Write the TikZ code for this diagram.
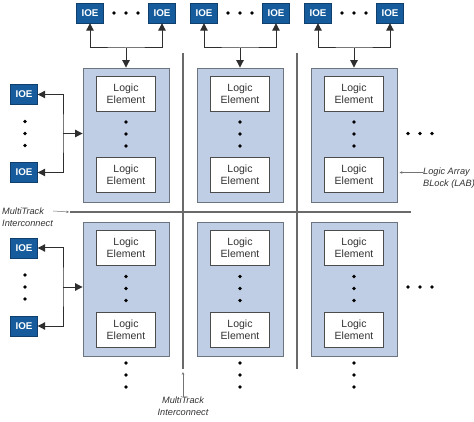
\documentclass[tikz,border=0pt]{standalone}
\usepackage{fontspec}
\setmainfont{Liberation Sans}
\usepackage{tikz}
\usetikzlibrary{arrows.meta, positioning}
\definecolor{IOEBlue}{HTML}{165C9C}
\definecolor{LabFill}{HTML}{BFCEE4}
\definecolor{LabLine}{HTML}{6C7480}
\definecolor{Wire}{HTML}{2E2E2E}
\definecolor{Track}{HTML}{6A6A6A}

\begin{document}
\begin{tikzpicture}[x=1pt,y=-1pt,
    lab/.style={draw=LabLine,fill=LabFill,line width=0.9pt,minimum width=86pt,minimum height=134pt,inner sep=0pt},
    le/.style={draw=black!70,fill=white,line width=0.9pt,minimum width=59pt,minimum height=35pt,inner sep=0pt,
        align=center,font=\fontsize{10.5}{12}\selectfont,text=black!80},
    ioe/.style={fill=IOEBlue,draw=IOEBlue!70!black,line width=0.4pt,minimum width=27pt,minimum height=20pt,inner sep=0pt,
        text=white,font=\fontsize{9.8}{10}\selectfont\bfseries},
    conn/.style={draw=Wire,line width=1pt},
    tip/.style={-{Triangle[length=7.5pt,width=7.5pt]}},
    tips/.style={{Triangle[length=7.5pt,width=7.5pt]}-{Triangle[length=7.5pt,width=7.5pt]}},
    track/.style={draw=Track,line width=1.1pt},
    ptr/.style={draw=black!55,line width=0.5pt,-{Stealth[length=2.8pt,width=2.5pt]}},
    note/.style={font=\fontsize{9.2}{12}\selectfont\itshape,align=left,inner sep=0pt,text=black!80},
    dot/.style={fill=black}]

    \useasboundingbox (0,0) rectangle (474,422);

    % interconnect tracks
    \coordinate (tv-1-top) at (183,53);
    \coordinate (tv-1-bot) at (183,369);
    \coordinate (tv-2-top) at (297,53);
    \coordinate (tv-2-bot) at (297,369);
    \coordinate (th-left) at (70,212);
    \coordinate (th-right) at (411,212);
    \draw[track] (tv-1-top) -- (tv-1-bot);
    \draw[track] (tv-2-top) -- (tv-2-bot);
    \draw[track] (th-left) -- (th-right);

    % LAB columns
    \foreach \c/\x in {1/126,2/240,3/354} {
        \foreach \r/\y in {1/135,2/289.5} {
            \node[lab] (lab-\c-\r) at (\x,\y) {};
            \node[le] (le-\c-\r-a) at (\x,\y-41.5) {Logic\\Element};
            \node[le] (le-\c-\r-b) at (\x,\y+40) {Logic\\Element};
            \foreach \d in {-13,-1,11}
                \fill[dot] (\x,\y+\d) circle (1.9pt);
        }
        % IOEs on top
        \node[ioe] (ioe-t-\c-a) at (\x-36,13) {IOE};
        \node[ioe] (ioe-t-\c-b) at (\x+36,13) {IOE};
        \foreach \d in {-12,0,12}
            \fill[dot] (\x+\d,13) circle (1.9pt);
        \coordinate (jt-\c) at (\x,48);
        \draw[conn,tips] (ioe-t-\c-a.south) |- (jt-\c) -| (ioe-t-\c-b.south);
        \draw[conn,tip] (jt-\c) -- (lab-\c-1.north);
        % more rows below
        \foreach \d in {363,375,387}
            \fill[dot] (\x,\d) circle (1.9pt);
    }

    % IOEs on the left
    \foreach \r/\y in {1/133.5,2/287} {
        \node[ioe] (ioe-l-\r-a) at (24,\y-39) {IOE};
        \node[ioe] (ioe-l-\r-b) at (24,\y+39) {IOE};
        \foreach \d in {-12,0,12}
            \fill[dot] (25,\y+\d) circle (1.9pt);
        \coordinate (jl-\r) at (63,\y);
        \draw[conn,tips] (ioe-l-\r-a.east) -| (jl-\r) |- (ioe-l-\r-b.east);
        \draw[conn,tip] (jl-\r) -- (lab-1-\r.west |- jl-\r);
        % more columns to the right
        \foreach \d in {408,420,432}
            \fill[dot] (\d,\y) circle (1.9pt);
    }

    % labels
    \node[note,anchor=west] (lab-note) at (423,178.5) {Logic Array\\BLock (LAB)};
    \draw[ptr] ([yshift=6pt]lab-note.west) -- ([xshift=2pt]lab-3-1.east |- 0,172.5);
    \node[note,anchor=west] (mt-left) at (2,217) {MultiTrack\\Interconnect};
    \draw[ptr] ([yshift=6pt]mt-left.east) -- ([xshift=-1pt]th-left);
    \node[note,anchor=north,align=center] (mt-bot) at (183,397) {MultiTrack\\Interconnect};
    \draw[ptr] (mt-bot.north) -- ([yshift=-3pt]tv-1-bot);
\end{tikzpicture}
\end{document}
